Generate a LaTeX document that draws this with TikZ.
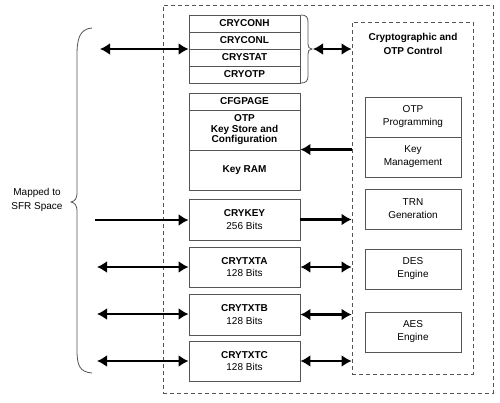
\documentclass[tikz,border=0pt]{standalone}
\usepackage{fontspec}
\setmainfont{Liberation Sans}
\usetikzlibrary{arrows.meta}
\definecolor{ln}{HTML}{555555}
\tikzset{
  reg/.style={draw=ln, line width=0.9pt, minimum width=111pt, inner sep=0pt, align=center, font=\fontsize{10}{11.5}\selectfont},
  blk/.style={draw=ln, line width=0.9pt, minimum width=96pt, minimum height=40pt, inner sep=0pt, align=center, font=\fontsize{10}{13}\selectfont},
  dbox/.style={draw=ln, line width=0.8pt, dash pattern=on 4pt off 3pt},
  bus/.style={line width=2.8pt, {Latex[length=10pt,width=12pt]}-{Latex[length=10pt,width=12pt]}},
  busr/.style={line width=2.8pt, -{Latex[length=10pt,width=12pt]}},
  brc/.style={draw=ln, line width=0.8pt},
}
\begin{document}
\begin{tikzpicture}[x=1pt,y=-1pt]
\useasboundingbox (0,0) rectangle (500,402);
% outer and inner dashed boxes
\node[dbox, minimum width=330pt, minimum height=388pt, inner sep=0pt] (outer) at (328,199) {};
\node[dbox, minimum width=121pt, minimum height=352pt, inner sep=0pt] (inner) at (412.5,198) {};
\node[font=\fontsize{10}{14}\selectfont\bfseries, align=center] (title) at (413,44) {Cryptographic and\\OTP Control};
% register stack
\node[reg, minimum height=17pt] (conh) at (244.5,23.5) {\bfseries CRYCONH};
\node[reg, minimum height=17pt] (conl) at (244.5,40.5) {\bfseries CRYCONL};
\node[reg, minimum height=17pt] (stat) at (244.5,57.5) {\bfseries CRYSTAT};
\node[reg, minimum height=17pt] (otp) at (244.5,74.5) {\bfseries CRYOTP};
% key store block
\node[reg, minimum height=17pt] (cfg) at (244.5,101.5) {\bfseries CFGPAGE};
\node[reg, minimum height=40pt, font=\fontsize{10}{10.5}\selectfont\bfseries] (ks) at (244.5,130) {OTP\\Key Store and\\Configuration};
\node[reg, minimum height=40pt] (kram) at (244.5,170) {\bfseries Key RAM};
% data registers
\node[reg, minimum height=41pt, font=\fontsize{10}{12.5}\selectfont] (key) at (244.5,219.5) {\textbf{CRYKEY}\\256 Bits};
\node[reg, minimum height=40pt, font=\fontsize{10}{12.5}\selectfont] (txta) at (244.5,267) {\textbf{CRYTXTA}\\128 Bits};
\node[reg, minimum height=41pt, font=\fontsize{10}{12.5}\selectfont] (txtb) at (244.5,314.5) {\textbf{CRYTXTB}\\128 Bits};
\node[reg, minimum height=40pt, font=\fontsize{10}{12.5}\selectfont] (txtc) at (244.5,361) {\textbf{CRYTXTC}\\128 Bits};
% inner blocks
\node[blk] (prog) at (413,117) {OTP\\Programming};
\node[blk] (kmgt) at (413,157) {Key\\Management};
\node[blk] (trn) at (413,209) {TRN\\Generation};
\node[blk] (des) at (413,269) {DES\\Engine};
\node[blk] (aes) at (413,332) {AES\\Engine};
% left label and brace
\node[font=\fontsize{10}{14}\selectfont, align=center] (sfr) at (37,200) {Mapped to\\SFR Space};
\draw[brc] (92,28) .. controls (80,29) and (77,38) .. (77,55) -- (77,192)
  .. controls (77,199) and (75,201) .. (71,202)
  .. controls (75,203) and (77,205) .. (77,212) -- (77,350)
  .. controls (77,366) and (80,372) .. (92,373);
% right brace of stack
\draw[brc] (301,15) .. controls (306,15) and (308,17) .. (308,22) -- (308,44)
  .. controls (308,47) and (309,49) .. (312,49)
  .. controls (309,49) and (308,51) .. (308,54) -- (308,76)
  .. controls (308,81) and (306,83) .. (301,83);
\coordinate (bt) at (313,49);
% free ends on left
\coordinate (l1) at (100,49);
\coordinate (l2) at (95,220);
\coordinate (l3) at (97,267);
\coordinate (l4) at (97,314);
\coordinate (l5) at (97,361);
% left connectors
\draw[bus] (l1) -- (l1 -| conh.west);
\draw[busr] (l2) -- (l2 -| key.west);
\draw[bus] (l3) -- (l3 -| txta.west);
\draw[bus] (l4) -- (l4 -| txtb.west);
\draw[bus] (l5) -- (l5 -| txtc.west);
% right connectors
\draw[bus] (bt) -- (bt -| inner.west);
\draw[busr] (inner.west |- kram.north) -- (kram.north east);
\draw[busr] (key.east) -- (key.east -| inner.west);
\draw[bus] (txta.east) -- (txta.east -| inner.west);
\draw[bus] (txtb.east) -- (txtb.east -| inner.west);
\draw[bus] (txtc.east) -- (txtc.east -| inner.west);
\end{tikzpicture}
\end{document}
